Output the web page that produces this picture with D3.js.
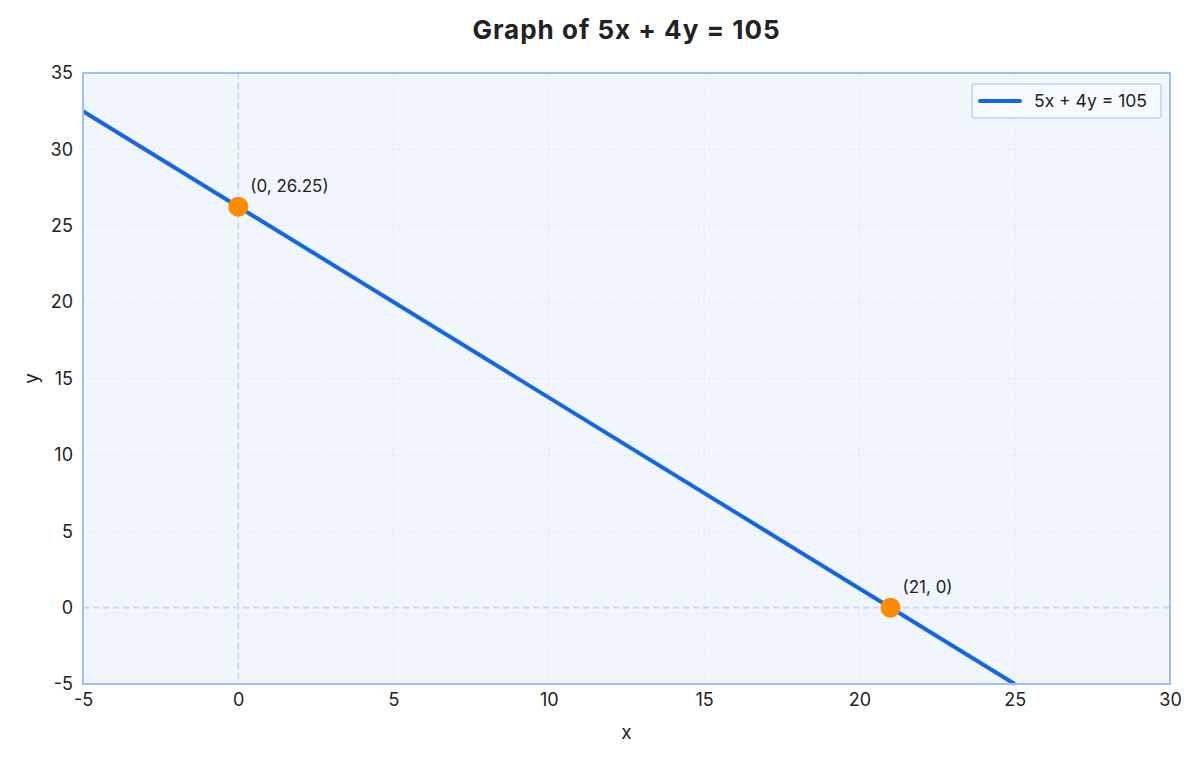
<!DOCTYPE html>
<html>
<head>
<meta charset="utf-8">
<script src="https://cdn.jsdelivr.net/npm/d3@7"></script>
<style>
  body { margin: 0; background: #fff; }
  text { font-family: Inter, "Open Sans", sans-serif; fill: #222; }
</style>
</head>
<body>
<script>
// data
var lineX = [-5, 25];
var lineY = [32.5, -5];
var pointX = [0, 21];
var pointY = [26.25, 0];
var pointLabels = ["(0, 26.25)", "(21, 0)"];
var xTicks = [-5, 0, 5, 10, 15, 20, 25, 30];
var yTicks = [-5, 0, 5, 10, 15, 20, 25, 30, 35];

var W = 1200, H = 761;
var pLeft = 83, pRight = 1170, pTop = 73, pBottom = 684;

var svg = d3.select(document.body).append('svg')
    .attr('width', W).attr('height', H);

var x = d3.scaleLinear().domain([-5, 30]).range([pLeft, pRight]);
var y = d3.scaleLinear().domain([-5, 35]).range([pBottom, pTop]);

// plot background
svg.append('rect')
    .attr('x', pLeft).attr('y', pTop)
    .attr('width', pRight - pLeft).attr('height', pBottom - pTop)
    .attr('fill', '#f1f6fd');

// grid (dotted)
svg.append('g').selectAll('line').data(xTicks.slice(1, -1)).enter().append('line')
    .attr('x1', d => x(d)).attr('x2', d => x(d))
    .attr('y1', pTop).attr('y2', pBottom)
    .attr('stroke', '#dde6f2').attr('stroke-width', 1).attr('stroke-dasharray', '2,3');
svg.append('g').selectAll('line').data(yTicks.slice(1, -1)).enter().append('line')
    .attr('y1', d => y(d)).attr('y2', d => y(d))
    .attr('x1', pLeft).attr('x2', pRight)
    .attr('stroke', '#dde6f2').attr('stroke-width', 1).attr('stroke-dasharray', '2,3');

// reference lines x=0, y=0 (dashed)
svg.append('line')
    .attr('x1', x(0)).attr('x2', x(0)).attr('y1', pTop).attr('y2', pBottom)
    .attr('stroke', '#c0d6fa').attr('stroke-width', 1.6).attr('stroke-dasharray', '6,4');
svg.append('line')
    .attr('x1', pLeft).attr('x2', pRight).attr('y1', y(0)).attr('y2', y(0))
    .attr('stroke', '#c0d6fa').attr('stroke-width', 1.6).attr('stroke-dasharray', '6,4');

// the line
var pts = lineX.map((d, i) => [d, lineY[i]]);
svg.append('path')
    .datum(pts)
    .attr('d', d3.line().x(d => x(d[0])).y(d => y(d[1])))
    .attr('fill', 'none')
    .attr('stroke', '#1466e6')
    .attr('stroke-width', 4);

// intercept points
svg.append('g').selectAll('circle').data(pointX).enter().append('circle')
    .attr('cx', d => x(d))
    .attr('cy', (d, i) => y(pointY[i]))
    .attr('r', 10)
    .attr('fill', '#ff8c00');

svg.append('g').selectAll('text').data(pointX).enter().append('text')
    .attr('x', d => x(d) + 12)
    .attr('y', (d, i) => y(pointY[i]) - 15)
    .attr('font-size', 17)
    .text((d, i) => pointLabels[i]);

// frame
svg.append('rect')
    .attr('x', pLeft).attr('y', pTop)
    .attr('width', pRight - pLeft).attr('height', pBottom - pTop)
    .attr('fill', 'none')
    .attr('stroke', '#9cc0f4').attr('stroke-width', 2);

// axes
var xAxis = svg.append('g')
    .attr('transform', 'translate(0,' + pBottom + ')')
    .call(d3.axisBottom(x).tickValues(xTicks).tickFormat(d => String(d)).tickSize(0).tickPadding(9));
xAxis.select('.domain').remove();
xAxis.selectAll('text').attr('font-size', 18).attr('font-family', 'Inter, sans-serif').attr('fill', '#222');

var yAxis = svg.append('g')
    .attr('transform', 'translate(' + pLeft + ',0)')
    .call(d3.axisLeft(y).tickValues(yTicks).tickFormat(d => String(d)).tickSize(0).tickPadding(10));
yAxis.select('.domain').remove();
yAxis.selectAll('text').attr('font-size', 18).attr('font-family', 'Inter, sans-serif').attr('fill', '#222');

// axis titles
svg.append('text')
    .attr('x', (pLeft + pRight) / 2).attr('y', 739)
    .attr('text-anchor', 'middle').attr('font-size', 19)
    .text('x');
svg.append('text')
    .attr('transform', 'translate(38,' + ((pTop + pBottom) / 2) + ') rotate(-90)')
    .attr('text-anchor', 'middle').attr('font-size', 19)
    .text('y');

// title
svg.append('text')
    .attr('x', (pLeft + pRight) / 2).attr('y', 39)
    .attr('text-anchor', 'middle')
    .attr('font-size', 26).attr('font-weight', 'bold')
    .attr('letter-spacing', 1)
    .text('Graph of 5x + 4y = 105');

// legend
var lg = svg.append('g');
lg.append('rect')
    .attr('x', 972).attr('y', 84).attr('width', 189).attr('height', 34)
    .attr('rx', 3)
    .attr('fill', '#f7faff').attr('stroke', '#bcd4f8').attr('stroke-width', 1.5);
lg.append('line')
    .attr('x1', 980).attr('x2', 1020).attr('y1', 101).attr('y2', 101)
    .attr('stroke', '#1466e6').attr('stroke-width', 4).attr('stroke-linecap', 'round');
lg.append('text')
    .attr('x', 1034).attr('y', 107)
    .attr('font-size', 17.5)
    .text('5x + 4y = 105');
</script>
</body>
</html>
